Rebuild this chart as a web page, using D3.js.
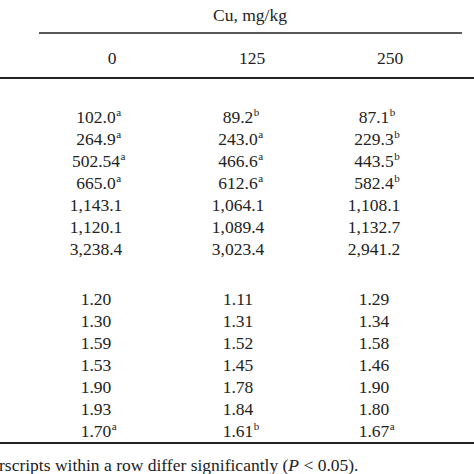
<!DOCTYPE html><html><head><meta charset="utf-8"><script src="https://cdn.jsdelivr.net/npm/d3@7"></script>
<style>body{margin:0;background:#fff}text{font-family:"Liberation Serif",serif;fill:#222}</style></head><body>
<svg id="c" width="474" height="474"></svg>
<script>
const levels = ["0","125","250"];
const group1 = [["102.0","a","89.2","b","87.1","b"],["264.9","a","243.0","a","229.3","b"],["502.54","a","466.6","a","443.5","b"],["665.0","a","612.6","a","582.4","b"],["1,143.1","","1,064.1","","1,108.1",""],["1,120.1","","1,089.4","","1,132.7",""],["3,238.4","","3,023.4","","2,941.2",""]];
const group2 = [["1.20","","1.11","","1.29",""],["1.30","","1.31","","1.34",""],["1.59","","1.52","","1.58",""],["1.53","","1.45","","1.46",""],["1.90","","1.78","","1.90",""],["1.93","","1.84","","1.80",""],["1.70","a","1.61","b","1.67","a"]];
const svg = d3.select("#c");
const FS=17.5;
const colX = [96,238,374];
svg.append("text").attr("x",250).attr("y",21).attr("text-anchor","middle").attr("font-size",FS).text("Cu, mg/kg");
svg.append("line").attr("x1",39).attr("x2",462).attr("y1",33).attr("y2",33).attr("stroke","#222").attr("stroke-width",1.5);
const hx=[112,252,390];
levels.forEach((l,i)=>svg.append("text").attr("x",hx[i]).attr("y",64).attr("text-anchor","middle").attr("font-size",FS).text(l));
svg.append("line").attr("x1",0).attr("x2",474).attr("y1",78).attr("y2",78).attr("stroke","#222").attr("stroke-width",2);
function drawGroup(rows,y0){
  rows.forEach((r,i)=>{
    for(let c=0;c<3;c++){
      const t=svg.append("text").attr("x",colX[c]).attr("y",y0+i*22).attr("text-anchor","middle").attr("font-size",FS).text(r[c*2]);
      if(r[c*2+1]){const w=t.node().getComputedTextLength();
        svg.append("text").attr("x",colX[c]+w/2+0.5).attr("y",y0+i*22-7).attr("font-size",11).text(r[c*2+1]);}
    }
  });
}
drawGroup(group1,123);
drawGroup(group2,305);
svg.append("line").attr("x1",0).attr("x2",474).attr("y1",443).attr("y2",443).attr("stroke","#222").attr("stroke-width",2);
const probe=svg.append("text").attr("font-size",FS).text("supe");
const pw=probe.node().getComputedTextLength();probe.remove();
const foot=svg.append("text").attr("x",-pw-1).attr("y",471).attr("font-size",FS);
foot.append("tspan").text("superscripts within a row differ significantly (");
foot.append("tspan").attr("font-style","italic").text("P");
foot.append("tspan").text(" < 0.05).");
</script></body></html>
